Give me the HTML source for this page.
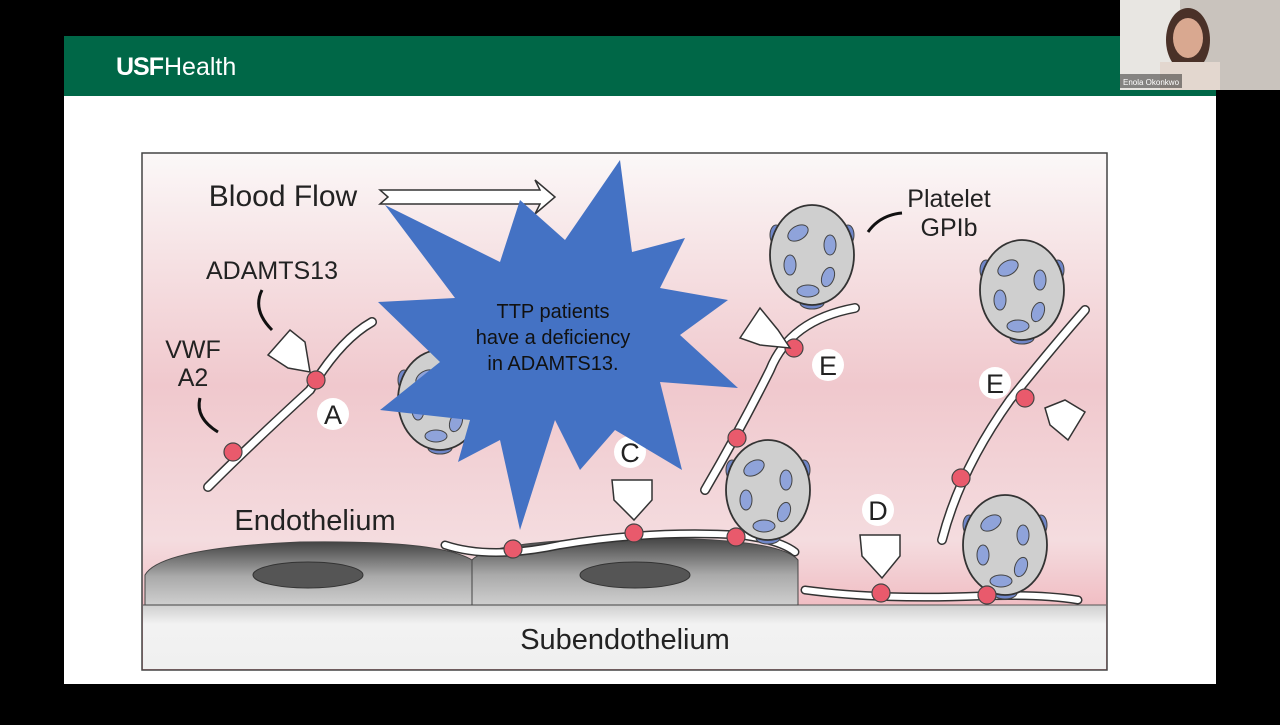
<!DOCTYPE html>
<html><head><style>
body{margin:0;width:1280px;height:720px;background:#000;overflow:hidden;font-family:"Liberation Sans",sans-serif}
</style></head><body>
<svg width="1280" height="720" viewBox="0 0 1280 720" xmlns="http://www.w3.org/2000/svg" font-family="Liberation Sans, sans-serif">
<defs>
<linearGradient id="bg" x1="0" y1="0" x2="0" y2="1">
<stop offset="0" stop-color="#fbf8f8"/><stop offset="0.2" stop-color="#f6e2e4"/><stop offset="0.45" stop-color="#f0c8cd"/><stop offset="0.75" stop-color="#f4dcdf"/><stop offset="1" stop-color="#ee9fa8"/>
</linearGradient>
<linearGradient id="cell" x1="0" y1="0" x2="0" y2="1">
<stop offset="0" stop-color="#444"/><stop offset="0.55" stop-color="#aaa"/><stop offset="1" stop-color="#cfcfcf"/>
</linearGradient>
<linearGradient id="sub" x1="0" y1="0" x2="0" y2="1">
<stop offset="0" stop-color="#cfcfcf"/><stop offset="0.3" stop-color="#f2f2f2"/><stop offset="1" stop-color="#f0f0f0"/>
</linearGradient>
<g id="plt">
<ellipse cx="-36" cy="-20" rx="6" ry="10" fill="#6f86c8" stroke="#444"/>
<ellipse cx="36" cy="-20" rx="6" ry="10" fill="#6f86c8" stroke="#444"/>
<ellipse cx="0" cy="48" rx="12" ry="6" fill="#6f86c8" stroke="#444"/>
<ellipse cx="0" cy="0" rx="42" ry="50" fill="#cfcfcf" stroke="#333" stroke-width="1.8"/>
<ellipse cx="-14" cy="-22" rx="11" ry="7" fill="#8fa3da" stroke="#444" transform="rotate(-30 -14 -22)"/>
<ellipse cx="18" cy="-10" rx="6" ry="10" fill="#8fa3da" stroke="#444"/>
<ellipse cx="-22" cy="10" rx="6" ry="10" fill="#8fa3da" stroke="#444"/>
<ellipse cx="16" cy="22" rx="6" ry="10" fill="#8fa3da" stroke="#444" transform="rotate(20 16 22)"/>
<ellipse cx="-4" cy="36" rx="11" ry="6" fill="#8fa3da" stroke="#444"/>
</g>
</defs>
<rect x="64" y="36" width="1152" height="648" fill="#fff"/>
<rect x="64" y="36" width="1152" height="60" fill="#006747"/>
<text x="116" y="75" fill="#fff" font-size="25" font-weight="bold" letter-spacing="-1">USF</text>
<text x="164" y="75" fill="#fff" font-size="25">Health</text>
<rect x="1120" y="0" width="160" height="90" fill="#c9c3bd"/>
<rect x="1120" y="0" width="60" height="90" fill="#e8e6e2"/>
<ellipse cx="1188" cy="40" rx="22" ry="32" fill="#4a3128"/>
<ellipse cx="1188" cy="38" rx="15" ry="20" fill="#d9a890"/>
<rect x="1160" y="62" width="60" height="28" fill="#e3d7cf"/>
<rect x="1120" y="74" width="62" height="14" fill="#222" opacity="0.5"/>
<text x="1123" y="85" fill="#fff" font-size="8">Enola Okonkwo</text>

<rect x="142" y="153" width="965" height="517" fill="url(#bg)" stroke="#444" stroke-width="1.5"/>
<rect x="143" y="605" width="963" height="64" fill="url(#sub)"/>
<line x1="143" y1="605" x2="1106" y2="605" stroke="#555"/>
<text x="625" y="649" text-anchor="middle" font-size="29" fill="#222">Subendothelium</text>
<path d="M145 605 L145 575 Q160 548 300 542 Q440 540 472 560 L472 605Z" fill="url(#cell)" stroke="#444"/>
<path d="M472 605 L472 560 Q490 540 640 538 Q780 538 798 560 L798 605Z" fill="url(#cell)" stroke="#444"/>
<ellipse cx="308" cy="575" rx="55" ry="13" fill="#555" stroke="#333"/>
<ellipse cx="635" cy="575" rx="55" ry="13" fill="#555" stroke="#333"/>
<text x="315" y="530" text-anchor="middle" font-size="29" fill="#222">Endothelium</text>
<text x="283" y="206" text-anchor="middle" font-size="30" fill="#222">Blood Flow</text>
<path d="M380 190 L540 190 L535 180 L555 197 L535 214 L540 204 L380 204 L388 197Z" fill="#fff" stroke="#333" stroke-width="1.5"/>
<text x="272" y="279" text-anchor="middle" font-size="25" fill="#222">ADAMTS13</text>
<text x="193" y="358" text-anchor="middle" font-size="25" fill="#222">VWF</text>
<text x="193" y="386" text-anchor="middle" font-size="25" fill="#222">A2</text>
<path d="M262 290 Q252 310 272 330" fill="none" stroke="#111" stroke-width="3"/>
<path d="M200 398 Q195 418 218 432" fill="none" stroke="#111" stroke-width="3"/>
<g fill="none" stroke-linecap="round">
<path d="M208 487 Q250 445 310 390 Q340 340 372 322" stroke="#333" stroke-width="10"/>
<path d="M208 487 Q250 445 310 390 Q340 340 372 322" stroke="#fff" stroke-width="7"/>
<path d="M445 545 Q490 560 560 545 Q650 530 740 535 Q780 540 795 552" stroke="#333" stroke-width="9"/>
<path d="M445 545 Q490 560 560 545 Q650 530 740 535 Q780 540 795 552" stroke="#fff" stroke-width="6"/>
<path d="M705 490 Q740 430 770 370 Q790 320 855 308" stroke="#333" stroke-width="10"/>
<path d="M705 490 Q740 430 770 370 Q790 320 855 308" stroke="#fff" stroke-width="7"/>
<path d="M805 590 Q880 600 980 596 Q1040 594 1078 600" stroke="#333" stroke-width="9"/>
<path d="M805 590 Q880 600 980 596 Q1040 594 1078 600" stroke="#fff" stroke-width="6"/>
<path d="M942 540 Q960 470 1010 400 Q1050 350 1085 310" stroke="#333" stroke-width="10"/>
<path d="M942 540 Q960 470 1010 400 Q1050 350 1085 310" stroke="#fff" stroke-width="7"/>
</g>
<use href="#plt" x="812" y="255"/>
<use href="#plt" x="1022" y="290"/>
<use href="#plt" x="768" y="490"/>
<use href="#plt" x="1005" y="545"/>
<use href="#plt" x="440" y="400"/>
<g fill="#e95a6c" stroke="#444" stroke-width="1.2">
<circle cx="233" cy="452" r="9"/><circle cx="316" cy="380" r="9"/><circle cx="513" cy="549" r="9"/><circle cx="634" cy="533" r="9"/><circle cx="736" cy="537" r="9"/>
<circle cx="737" cy="438" r="9"/><circle cx="794" cy="348" r="9"/><circle cx="881" cy="593" r="9"/><circle cx="987" cy="595" r="9"/><circle cx="961" cy="478" r="9"/><circle cx="1025" cy="398" r="9"/>
</g>
<g fill="#fff" stroke="#333" stroke-width="1.5">
<path d="M268 355 L290 330 L305 342 L310 372 L288 368Z"/>
<path d="M612 480 L652 480 L652 500 L634 520 L614 500Z"/>
<path d="M860 535 L900 535 L900 556 L882 578 L862 556Z"/>
<path d="M740 338 L760 308 L778 330 L790 348 L760 345Z"/>
<path d="M1045 408 L1065 400 L1085 412 L1068 440 L1050 425Z"/>
</g>
<g font-size="27" fill="#222" text-anchor="middle">
<circle cx="333" cy="414" r="16" fill="#fff"/><text x="333" y="424">A</text>
<circle cx="630" cy="452" r="16" fill="#fff"/><text x="630" y="462">C</text>
<circle cx="878" cy="510" r="16" fill="#fff"/><text x="878" y="520">D</text>
<circle cx="828" cy="365" r="16" fill="#fff"/><text x="828" y="375">E</text>
<circle cx="995" cy="383" r="16" fill="#fff"/><text x="995" y="393">E</text>
</g>
<text x="949" y="207" text-anchor="middle" font-size="25" fill="#222">Platelet</text>
<text x="949" y="236" text-anchor="middle" font-size="25" fill="#222">GPIb</text>
<path d="M902 213 Q880 215 868 232" fill="none" stroke="#111" stroke-width="3"/>
<polygon fill="#4472c4" points="620,160 632,252 685,238 660,288 728,300 680,335 738,388 660,382 682,470 615,430 580,470 555,420 520,530 500,440 458,462 470,420 380,410 440,362 378,302 455,298 385,205 500,262 520,200 565,240"/>
<g font-size="20" fill="#111" text-anchor="middle">
<text x="553" y="318">TTP patients</text>
<text x="553" y="344">have a deficiency</text>
<text x="553" y="370">in ADAMTS13.</text>
</g>
</svg>
</body></html>
